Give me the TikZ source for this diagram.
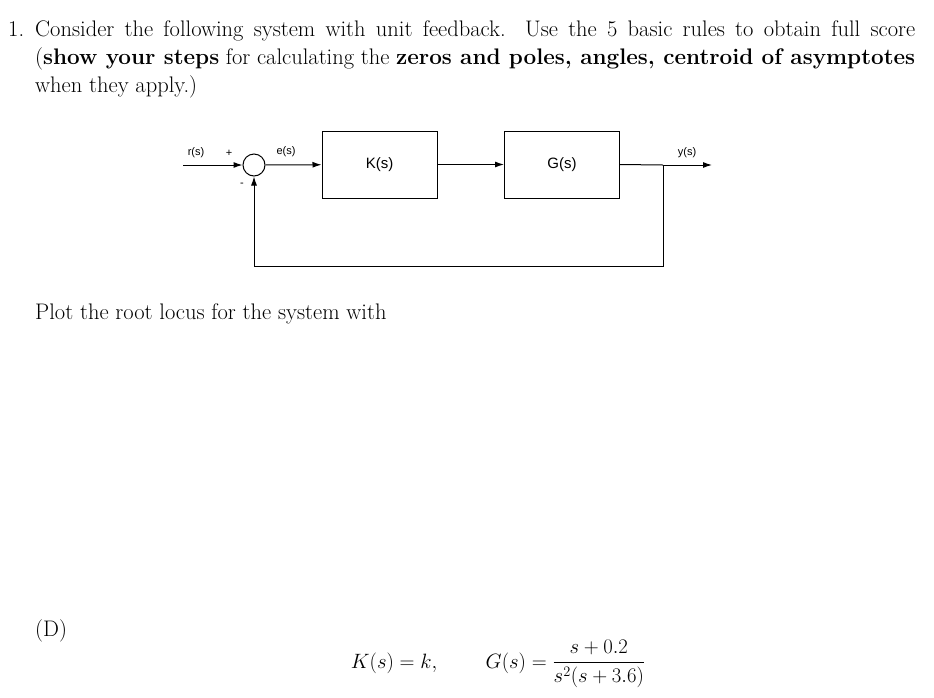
\documentclass[tikz,border=0pt]{standalone}
\usepackage{amsmath}
\usepackage{fontspec}
\usetikzlibrary{arrows.meta}
\newfontfamily\diagfont{Liberation Sans}
\begin{document}
\begin{tikzpicture}[x=1pt,y=-1pt,
  blk/.style={draw,line width=1pt,minimum width=115pt,minimum height=67pt,font=\diagfont\fontsize{15}{15}\selectfont},
  lbl/.style={font=\diagfont\fontsize{11}{11}\selectfont,inner sep=0pt},
  ln/.style={line width=1pt},
  arr/.style={ln,-{Latex[length=9pt,width=6pt]}},
  txt/.style={inner sep=0pt,anchor=base west,font=\fontsize{22.5}{28}\selectfont}]
\useasboundingbox (0,0) rectangle (934,697);
\node[txt] (n1) at (8,36) {1.};
\node[txt,text width=880pt,align=justify] (p1) at (35,36) {Consider the following system with unit feedback. Use the 5 basic rules to obtain full score\linebreak (\textbf{show your steps} for calculating the \textbf{zeros and poles, angles, centroid of asymptotes}\linebreak when they apply.)};
\node[circle,draw,line width=1pt,minimum size=22pt,inner sep=0pt] (sum) at (254,165) {};
\node[blk] (K) at (379.5,164.5) {K(s)};
\node[blk] (G) at (562,164.5) {G(s)};
\coordinate (in) at (183,165);
\coordinate (br) at (663,165);
\coordinate (out) at (712,165);
\coordinate (fb1) at (663,266);
\coordinate (fb2) at (254,266);
\draw[arr] (in) -- (sum);
\draw[arr] (sum) -- (K);
\draw[arr] (K) -- (G);
\draw[ln] (G.east) -- (br);
\draw[arr] (br) -- (out);
\draw[arr] (br) -- (fb1) -- (fb2) -- (sum);
\node[lbl] (r) at (196,153) {r(s)};
\node[lbl] (p) at (229,153) {+};
\node[lbl] (e) at (286,152) {e(s)};
\node[lbl] (m) at (242,185) {-};
\node[lbl] (y) at (687,153) {y(s)};
\node[txt] (plot) at (35,319) {Plot the root locus for the system with};
\node[txt] (D) at (35,636) {(D)};
\node[inner sep=0pt,font=\fontsize{22.5}{28}\selectfont] (eq) at (498,664) {$K(s)=k,\qquad G(s)=\dfrac{s+0.2}{s^2(s+3.6)}$};
\end{tikzpicture}
\end{document}
